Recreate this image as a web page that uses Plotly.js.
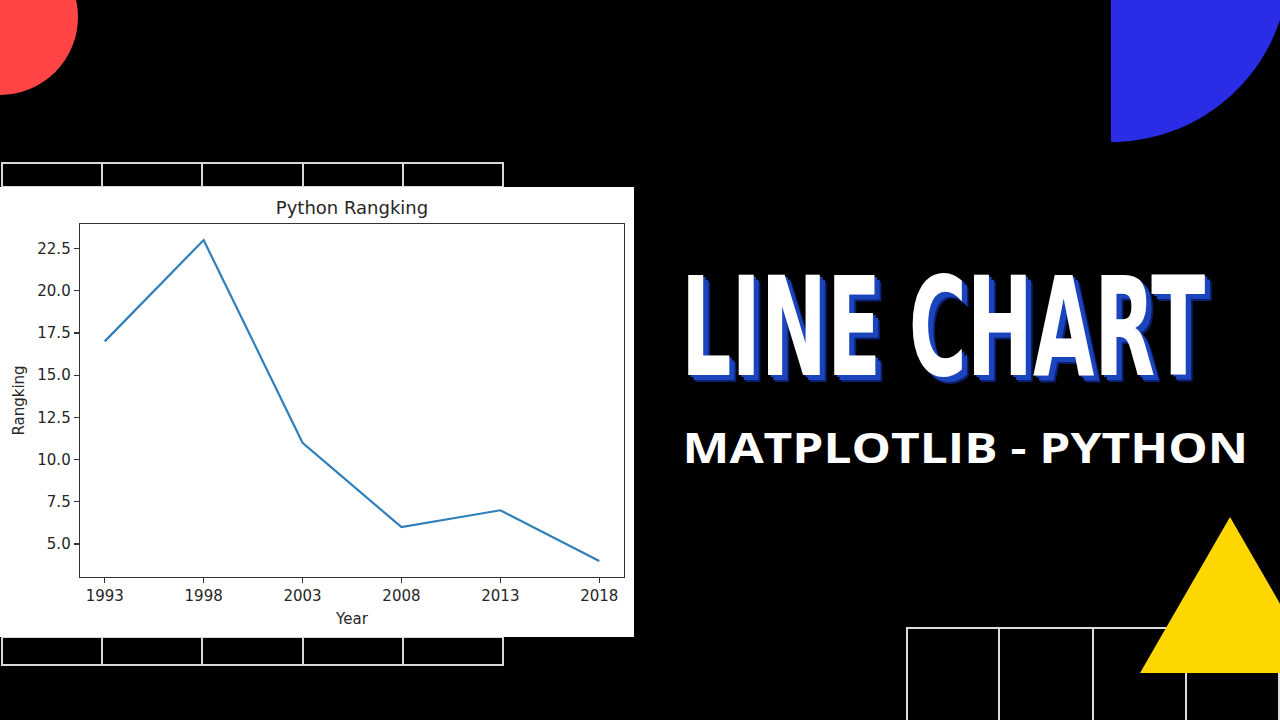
<!DOCTYPE html>
<html>
<head>
<meta charset="utf-8">
<script src="https://cdn.plot.ly/plotly-3.0.1.min.js"></script>
<style>
html,body{margin:0;padding:0;background:#000;overflow:hidden}
#chart{width:1280px;height:720px}
</style>
</head>
<body>
<div id="chart"></div>
<script>
// ---- data ----
const years = [1993, 1998, 2003, 2008, 2013, 2018];
const ranking = [17, 23, 11, 6, 7, 4];
const xTickLabels = ['1993', '1998', '2003', '2008', '2013', '2018'];
const yTicks = [5, 7.5, 10, 12.5, 15, 17.5, 20, 22.5];
const yTickLabels = ['5.0', '7.5', '10.0', '12.5', '15.0', '17.5', '20.0', '22.5'];
const chartTitle = 'Python Rangking';
const xTitle = 'Year';
const yTitle = 'Rangking';
const headline = 'LINE CHART';
const subline = 'MATPLOTLIB - PYTHON';

// ---- pixel helpers (plot area = axes box) ----
const PL = 80, PR = 624, PT = 224, PB = 577;
const fx = p => (p - PL) / (PR - PL);
const fy = p => (PB - p) / (PB - PT);

const NONE = 'rgba(0,0,0,0)';
function rect(x0, y0, x1, y1, fill, line, lw) {
  return {type: 'rect', xref: 'paper', yref: 'paper', layer: 'below',
    x0: fx(x0), x1: fx(x1), y0: fy(y1), y1: fy(y0),
    fillcolor: fill || NONE, line: {color: line || NONE, width: lw || 0}};
}
function poly(pts, fill) {
  const d = pts.map((p, i) => (i ? 'L' : 'M') + fx(p[0]).toFixed(5) + ',' + fy(p[1]).toFixed(5)).join(' ') + ' Z';
  return {type: 'path', xref: 'paper', yref: 'paper', layer: 'below', path: d, fillcolor: fill, line: {width: 0}};
}

const shapes = [];
// red circle top-left
shapes.push({type: 'circle', xref: 'paper', yref: 'paper', layer: 'below',
  x0: fx(-78), x1: fx(78), y0: fy(95), y1: fy(-61), fillcolor: '#ff4545', line: {width: 0}});
// blue quarter disc top-right
(function () {
  const cx = 1111, cy = -36, r = 178;
  const pts = [[cx, -5]];
  const tEnd = Math.asin(Math.min(1, (1290 - cx) / r));
  for (let i = 0; i <= 48; i++) {
    const t = tEnd * i / 48;
    pts.push([cx + r * Math.sin(t), cy + r * Math.cos(t)]);
  }
  pts.push([1290, -5]);
  shapes.push(poly(pts, '#2b2de6'));
})();
// bottom-right grid cells
const gridX = [907, 999, 1093, 1186, 1279];
for (let i = 0; i < gridX.length - 1; i++) shapes.push(rect(gridX[i], 628, gridX[i + 1], 740, null, '#dcdcdc', 2));
// yellow triangle
shapes.push(poly([[1230, 517], [1140, 673], [1320, 673]], '#fed700'));
// left strips above / below the chart panel
const stripX = [2, 102, 202, 303, 403, 503];
for (let i = 0; i < stripX.length - 1; i++) {
  shapes.push(rect(stripX[i], 163, stripX[i + 1], 187, null, '#d8d8d8', 2));
  shapes.push(rect(stripX[i], 637, stripX[i + 1], 665, null, '#d8d8d8', 2));
}
// white chart panel
shapes.push(rect(-2, 187, 634, 637, '#ffffff', null, 0));

const tickFont = {family: 'DejaVu Sans', size: 15, color: '#262626'};

const annotations = [
  {text: headline, xref: 'paper', yref: 'paper', x: fx(688), y: fy(378), xanchor: 'left', yanchor: 'bottom',
    showarrow: false, align: 'left',
    font: {family: '"Liberation Sans Narrow", "DejaVu Sans Condensed", sans-serif', size: 100, color: '#ffffff',
      weight: 700, shadow: '5px 5px 0 #1b45bd, 6px 6px 0 #0c1f6e'}},
  {text: subline, xref: 'paper', yref: 'paper', x: fx(686), y: fy(466), xanchor: 'left', yanchor: 'bottom',
    showarrow: false, align: 'left',
    font: {family: '"Open Sans", Lato, sans-serif', size: 44, color: '#ffffff', weight: 700}}
];

const data = [{
  type: 'scatter', mode: 'lines', x: years, y: ranking,
  line: {color: '#2f7fbb', width: 2.2}, hoverinfo: 'skip', showlegend: false
}];

const layout = {
  width: 1280, height: 720,
  margin: {l: PL, r: 1280 - PR, t: PT, b: 720 - PB, pad: 0},
  paper_bgcolor: '#000000', plot_bgcolor: '#ffffff',
  showlegend: false,
  title: {text: chartTitle, xref: 'container', yref: 'container', x: 352 / 1280, y: 1 - 208 / 720,
    xanchor: 'center', yanchor: 'middle', font: {family: 'DejaVu Sans', size: 18, color: '#262626'}},
  xaxis: {range: [1991.75, 2019.25], tickmode: 'array', tickvals: years, ticktext: xTickLabels,
    ticks: 'outside', ticklen: 5, tickwidth: 1.2, tickcolor: '#333', showline: true, mirror: true,
    linecolor: '#333', linewidth: 1.3, showgrid: false, zeroline: false, tickfont: tickFont,
    automargin: false, fixedrange: true,
    title: {text: xTitle, font: tickFont, standoff: 9}},
  yaxis: {range: [3.05, 23.95], tickmode: 'array', tickvals: yTicks, ticktext: yTickLabels,
    ticks: 'outside', ticklen: 5, tickwidth: 1.2, tickcolor: '#333', showline: true, mirror: true,
    linecolor: '#333', linewidth: 1.3, showgrid: false, zeroline: false, tickfont: tickFont,
    automargin: false, fixedrange: true,
    title: {text: yTitle, font: tickFont, standoff: 9}},
  shapes: shapes,
  annotations: annotations
};

// fit an annotation's ink box onto a target pixel box (stretching the display font)
function fit(gd, idx, box, shadowOffs) {
  const g = gd.querySelector('.annotation[data-index="' + idx + '"]');
  const t = g.querySelector('text');
  const cs = getComputedStyle(t);
  const ctx = document.createElement('canvas').getContext('2d');
  ctx.font = cs.fontStyle + ' ' + cs.fontWeight + ' ' + cs.fontSize + ' ' + cs.fontFamily;
  const m = ctx.measureText(t.textContent);
  const r = t.getBoundingClientRect();
  const base = r.top + m.fontBoundingBoxAscent;
  const k = {l: r.left - m.actualBoundingBoxLeft, r: r.left + m.actualBoundingBoxRight,
    t: base - m.actualBoundingBoxAscent, b: base + m.actualBoundingBoxDescent};
  const sx = (box.r - box.l) / (k.r - k.l);
  const sy = (box.b - box.t) / (k.b - k.t);
  g.setAttribute('transform', 'matrix(' + sx + ',0,0,' + sy + ',' + (box.l - k.l * sx) + ',' + (box.t - k.t * sy) + ')');
  if (shadowOffs) {
    t.style.textShadow = shadowOffs.map(s => (s[0] / sx).toFixed(2) + 'px ' + (s[1] / sy).toFixed(2) + 'px 0 ' + s[2]).join(', ');
  }
}

Plotly.newPlot('chart', data, layout, {staticPlot: true, displayModeBar: false, responsive: false}).then(gd => {
  fit(gd, 0, {l: 688, r: 1205, t: 272, b: 376}, [[3, 3, '#1b45bd'], [6, 6, '#1b45bd'], [8, 8, '#0c1f6e']]);
  fit(gd, 1, {l: 686, r: 1244, t: 432, b: 463});
});
</script>
</body>
</html>
